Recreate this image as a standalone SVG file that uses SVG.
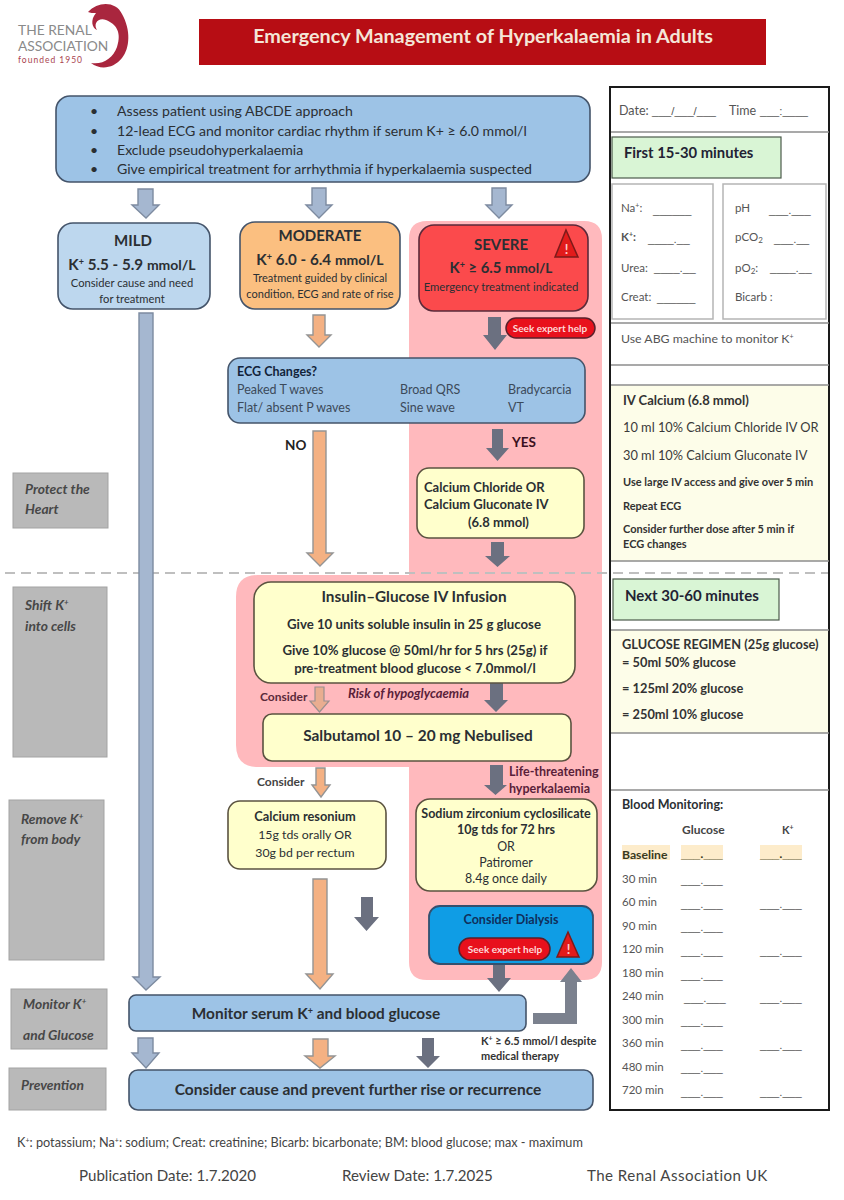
<svg xmlns="http://www.w3.org/2000/svg" width="844" height="1200" viewBox="0 0 844 1200">
<style>
text{font-family:Lato,"Liberation Sans",Arial,sans-serif;fill:#2b2f33}
.b{font-weight:700}.i{font-style:italic}.m{text-anchor:middle}
.blue{fill:#9dc3e6;stroke:#44546a;stroke-width:1.6}
.yel{fill:#ffffcc;stroke:#5b5340;stroke-width:1.6}
.lab{fill:#b9b9b9;stroke:#a3a3a3;stroke-width:1}
.lt{font-size:13.8px;font-style:italic;font-weight:700;fill:#474747}
.ab{fill:#a5b7d0;stroke:#7d8ba0;stroke-width:1.4}
.ao{fill:#f4b183;stroke:#949494;stroke-width:1.4}
.ac{fill:#e9ad90;stroke:#9a8f8f;stroke-width:1.2}
.ad{fill:#6b7080;stroke:none}
.pt{font-size:12.8px;fill:#3a3a3a}
.pb{font-size:11px;font-weight:700;fill:#333}
.t{font-size:11.5px;fill:#555}
.u{font-size:11.5px;fill:#555;font-family:"Liberation Sans",Arial,sans-serif}
.dash{stroke:#bfbfbf;stroke-width:2;stroke-dasharray:10 6;fill:none}
.div{stroke:#8d8d8d;stroke-width:1.4;fill:none}
.pill{fill:#e8101c;stroke:#5a1f2a;stroke-width:1.5}
.pw{font-size:10px;font-weight:700;fill:#ffd9d9;text-anchor:middle}
.tri{fill:#e21b1b;stroke:#7d1a1a;stroke-width:1.5}
.ex{font-size:13px;font-weight:700;fill:#ffc9c9;text-anchor:middle}
</style>

<rect width="844" height="1200" fill="#fff"/>

<g id="logo">
<path d="M88 12C98 1 116 1 122 14C131 30 130 48 122 58C113 69 100 70 91 63C103 65 113 58 117 47C122 32 116 24 106 20C98 17 93 24 97 30C92 28 90 20 96 13C93 13 90 13 88 12Z" fill="#a9263e"/>
<text x="18" y="35" font-size="13.800" style="fill:#8a8a8a">THE RENAL</text>
<text x="18" y="50.500" font-size="13.800" style="fill:#8a8a8a">ASSOCIATION</text>
<text x="18" y="63" font-size="8.500" style="fill:#a9434f" letter-spacing="1">founded 1950</text>
</g>

<g id="title">
<rect x="199" y="19" width="567" height="46" fill="#b70d14"/>
<text x="483" y="43" font-size="19.800" class="b m" style="fill:#f4e6d8">Emergency Management of Hyperkalaemia in Adults</text>
</g>

<path id="severe-zone" d="M427 221H584Q602 221 602 239V962Q602 980 584 980H427Q409 980 409 962V767H258Q236 767 236 745V597Q236 575 258 575H409V239Q409 221 427 221Z" fill="#ffb9bd"/>

<path class="dash" d="M5 573H829"/>

<g id="stage-labels">
<g id="label-protect"><rect class="lab" x="13" y="473" width="95" height="55"/><text class="lt" x="25" y="494">Protect the</text><text class="lt" x="25" y="514">Heart</text></g>
<g id="label-shift"><rect class="lab" x="13" y="587" width="94" height="170"/><text class="lt" x="25" y="610">Shift K<tspan baseline-shift="super" font-size="8">+</tspan></text><text class="lt" x="25" y="631">into cells</text></g>
<g id="label-remove"><rect class="lab" x="9" y="800" width="95" height="160"/><text class="lt" x="21" y="824">Remove K<tspan baseline-shift="super" font-size="8">+</tspan></text><text class="lt" x="21" y="844">from body</text></g>
<g id="label-monitor"><rect class="lab" x="11" y="989" width="96" height="60"/><text class="lt" x="23" y="1009">Monitor K<tspan baseline-shift="super" font-size="8">+</tspan></text><text class="lt" x="23" y="1040">and Glucose</text></g>
<g id="label-prevention"><rect class="lab" x="9" y="1068" width="97" height="42"/><text class="lt" x="21" y="1090">Prevention</text></g>
</g>

<g id="connectors">
<path class="ab" d="M138 189H153V205H159L146 218L132 205H138Z"/>
<path class="ab" d="M312 188H326V205H332L319 218L306 205H312Z"/>
<path class="ab" d="M492 188H506V205H512L499 218L486 205H492Z"/>
<path class="ab" d="M139 313H153V977H160L146 990L133 977H139Z"/>
<path class="ab" d="M138 1038H153V1053H159L146 1068L132 1053H138Z"/>
<path class="ao" d="M313 315H325V335H331L319 347L307 335H313Z"/>
<path class="ao" d="M313 431H326V553H333L320 566L307 553H313Z"/>
<path class="ac" d="M315 687H324V701H329L319.500 712L310 701H315Z"/>
<path class="ao" d="M316 768H325V785H330L321 797L312 785H316Z"/>
<path class="ao" d="M313 879H327V974H333L320 989L306 974H313Z"/>
<path class="ao" d="M313 1039H328V1056H335L320 1068L305 1056H313Z"/>
<path class="ad" d="M488 317H501V335H507L495 350L483 335H488Z"/>
<path class="ad" d="M492 429H503V448H509L497.500 461L486 448H492Z"/>
<path class="ad" d="M491 542H504V556H510L497.500 567L485 556H491Z"/>
<path class="ad" d="M490 683H503V700H508L496 712L484 700H490Z"/>
<path class="ad" d="M490 765H503V785H507L495.500 795L484 785H490Z"/>
<path class="ad" d="M361 897H373V917H379L366.500 931L354 917H361Z"/>
<path class="ad" d="M493 965H505V978H511L499 992L487 978H493Z"/>
<path class="ad" d="M422 1038H434V1056H440L428 1068L416 1056H422Z"/>
<path class="ad" style="fill:#7b818e" d="M533 1013H565V982H560L571 968L582 982H577V1024H533Z"/>
</g>

<g id="assess">
<rect class="blue" x="56" y="96" width="534" height="86" rx="14"/>
<g font-size="14.100">
<text x="90" y="116">•</text><text x="117" y="116">Assess patient using ABCDE approach</text>
<text x="90" y="136">•</text><text x="117" y="136">12-lead ECG and monitor cardiac rhythm if serum K+ ≥ 6.0 mmol/l</text>
<text x="90" y="155">•</text><text x="117" y="155">Exclude pseudohyperkalaemia</text>
<text x="90" y="174">•</text><text x="117" y="174">Give empirical treatment for arrhythmia if hyperkalaemia suspected</text>
</g>
</g>

<g id="mild">
<rect x="58" y="223" width="152" height="86" rx="15" fill="#bdd7ee" stroke="#44546a" stroke-width="1.600"/>
<text class="b m" x="133" y="246" font-size="15">MILD</text>
<text class="b m" x="132" y="270" font-size="15.200">K<tspan baseline-shift="super" font-size="9">+</tspan> 5.5 - 5.9 <tspan font-size="14">mmol/L</tspan></text>
<text class="m" x="132" y="287" font-size="11.200">Consider cause and need</text>
<text class="m" x="132" y="303" font-size="11.200">for treatment</text>
</g>

<g id="moderate">
<rect x="240" y="222" width="160" height="87" rx="15" fill="#fbbf80" stroke="#44546a" stroke-width="1.600"/>
<text class="b m" x="320" y="241" font-size="15">MODERATE</text>
<text class="b m" x="320" y="265" font-size="15.200">K<tspan baseline-shift="super" font-size="9">+</tspan> 6.0 - 6.4 <tspan font-size="14">mmol/L</tspan></text>
<text class="m" x="320" y="282" font-size="11">Treatment guided by clinical</text>
<text class="m" x="320" y="298" font-size="11">condition, ECG and rate of rise</text>
</g>

<g id="severe">
<rect x="419" y="225" width="169" height="86" rx="15" fill="#fb4a4c" stroke="#5a2a3a" stroke-width="1.600"/>
<text class="b m" x="501" y="250" font-size="15">SEVERE</text>
<text class="b m" x="501" y="273" font-size="14.800">K<tspan baseline-shift="super" font-size="9">+</tspan> ≥ 6.5 <tspan font-size="13.600">mmol/L</tspan></text>
<text class="m" x="501" y="291" font-size="11.300">Emergency treatment indicated</text>
<path class="tri" d="M566 230L578 257H555Z"/>
<text class="ex" x="566.500" y="254">!</text>
</g>

<g id="seek-help-1">
<rect class="pill" x="506" y="318" width="89" height="20" rx="10"/>
<text class="pw" x="550" y="332">Seek expert help</text>
</g>

<g id="ecg">
<rect class="blue" x="228" y="358" width="357" height="65" rx="12"/>
<text class="b" x="237" y="376" font-size="12.500" style="fill:#12233a">ECG Changes?</text>
<g font-size="12.500">
<text x="237" y="394" style="fill:#3c4a5a">Peaked T waves</text><text x="400" y="394" style="fill:#3c4a5a">Broad QRS</text><text x="508" y="394" style="fill:#3c4a5a">Bradycarcia</text>
<text x="237" y="412" style="fill:#3c4a5a">Flat/ absent P waves</text><text x="400" y="412" style="fill:#3c4a5a">Sine wave</text><text x="508" y="412" style="fill:#3c4a5a">VT</text>
</g>
</g>

<text id="no" class="b" x="285" y="450" font-size="13.500" style="fill:#222">NO</text>
<text id="yes" class="b" x="512" y="447" font-size="13.500" style="fill:#3a1020">YES</text>

<g id="calcium">
<rect class="yel" x="417" y="468" width="167" height="70" rx="12"/>
<g class="b" font-size="13">
<text x="424" y="492">Calcium Chloride OR</text>
<text x="424" y="509">Calcium Gluconate IV</text>
<text x="468" y="527">(6.8 mmol)</text>
</g>
</g>

<g id="insulin">
<rect class="yel" x="254" y="582" width="321" height="101" rx="17"/>
<text class="b m" x="414" y="602" font-size="15.300">Insulin–Glucose IV Infusion</text>
<text class="b m" x="414" y="629" font-size="13.200">Give 10 units soluble insulin in 25 g glucose</text>
<text class="b m" x="415" y="655" font-size="13.200">Give 10% glucose @ 50ml/hr for 5 hrs (25g) if</text>
<text class="b m" x="415" y="673" font-size="13.200">pre-treatment blood glucose &lt; 7.0mmol/l</text>
</g>

<text id="consider-1" class="b" x="260" y="701" font-size="12" style="fill:#5a2a3a">Consider</text>
<text id="risk" class="b i" x="348" y="698" font-size="13" style="fill:#5a1f3a">Risk of hypoglycaemia</text>

<g id="salbutamol">
<rect class="yel" x="263" y="714" width="308" height="47" rx="9"/>
<text class="b m" x="418" y="741" font-size="15.400">Salbutamol 10 – 20 mg Nebulised</text>
</g>

<text id="consider-2" class="b" x="257" y="786" font-size="12" style="fill:#444">Consider</text>
<g id="life-threatening" class="b" font-size="12.500">
<text x="509" y="776" style="fill:#5a1f3a">Life-threatening</text>
<text x="509" y="793" style="fill:#5a1f3a">hyperkalaemia</text>
</g>

<g id="resonium">
<rect class="yel" x="228" y="801" width="158" height="68" rx="12"/>
<text class="b m" x="305" y="821" font-size="12.800">Calcium resonium</text>
<text class="m" x="305" y="839" font-size="12.300">15g tds orally OR</text>
<text class="m" x="305" y="857" font-size="12.300">30g bd per rectum</text>
</g>

<g id="zirconium">
<rect class="yel" x="416" y="799" width="181" height="92" rx="14"/>
<text class="b m" x="506" y="818" font-size="12.500">Sodium zirconium cyclosilicate</text>
<text class="b m" x="506" y="834" font-size="12.500">10g tds for 72 hrs</text>
<text class="m" x="506" y="851" font-size="12.400">OR</text>
<text class="m" x="506" y="867" font-size="12.400">Patiromer</text>
<text class="m" x="506" y="883" font-size="12.400">8.4g once daily</text>
</g>

<g id="dialysis">
<rect x="429" y="906" width="164" height="58" rx="11" fill="#0f9de5" stroke="#34506e" stroke-width="1.800"/>
<text class="b m" x="511" y="924" font-size="12.500" style="fill:#0f2f5c">Consider Dialysis</text>
<rect class="pill" x="459" y="938" width="91" height="22" rx="11"/>
<text class="pw" x="505" y="953">Seek expert help</text>
<path class="tri" d="M568 932L579 957H557Z"/>
<text class="ex" x="568.500" y="954">!</text>
</g>

<g id="monitor">
<rect class="blue" x="129" y="995" width="397" height="36" rx="7"/>
<text class="b m" x="316" y="1019" font-size="15.400">Monitor serum K<tspan baseline-shift="super" font-size="9">+</tspan> and blood glucose</text>
</g>

<g id="despite" class="b" font-size="11">
<text x="481" y="1045" style="fill:#333">K<tspan baseline-shift="super" font-size="7">+</tspan> ≥ 6.5 mmol/l despite</text>
<text x="481" y="1060" style="fill:#333">medical therapy</text>
</g>

<g id="prevent">
<rect class="blue" x="129" y="1070" width="464" height="40" rx="9"/>
<text class="b m" x="358" y="1095" font-size="15.500">Consider cause and prevent further rise or recurrence</text>
</g>

<g id="side-panel">
<rect x="611" y="385" width="218" height="176" fill="#fdfde9"/>
<rect x="611" y="630" width="218" height="103" fill="#fdfde9"/>
<rect x="610" y="87" width="219" height="1023" fill="none" stroke="#1a1a1a" stroke-width="2"/>
<path class="div" d="M611 132H829M611 323H829M611 365H829M611 385H829M611 561H829M611 630H829M611 733H829M611 790H829"/>
<rect x="612" y="184" width="101" height="135" fill="none" stroke="#b5b5b5" stroke-width="1.500"/>
<rect x="723" y="184" width="103" height="135" fill="none" stroke="#b5b5b5" stroke-width="1.500"/>
<text class="t" x="619" y="115" style="font-size:12.500px">Date:</text>
<text class="u" x="652" y="115">___/___/___</text>
<text class="t" x="729" y="115" style="font-size:12.500px">Time</text>
<text class="u" x="760" y="115">___:____</text>
<g id="first-15"><rect x="612" y="137" width="169" height="41" fill="#d9f5d5" stroke="#4b5b4b" stroke-width="1.200"/><text class="b" x="624" y="158" font-size="14.800" style="fill:#223">First 15-30 minutes</text></g>
<text class="t" x="621" y="212">Na<tspan baseline-shift="super" font-size="7">+</tspan>:</text><text class="u" x="653" y="214">______</text>
<text class="t b" x="621" y="241">K<tspan baseline-shift="super" font-size="7">+</tspan>:</text><text class="u" x="648" y="243">____.__</text>
<text class="t" x="621" y="272">Urea:</text><text class="u" x="654" y="272">____.__</text>
<text class="t" x="621" y="301">Creat:</text><text class="u" x="657" y="302">______</text>
<text class="t" x="735" y="212">pH</text><text class="u" x="769" y="214">___.___</text>
<text class="t" x="735" y="241">pCO<tspan baseline-shift="-2" font-size="8">2</tspan></text><text class="u" x="774" y="243">___.__</text>
<text class="t" x="735" y="272">pO<tspan baseline-shift="-2" font-size="8">2</tspan>:</text><text class="u" x="770" y="272">____.__</text>
<text class="t" x="735" y="301">Bicarb :</text>
<text class="t" x="621" y="343" style="font-size:12.300px">Use ABG machine to monitor K<tspan baseline-shift="super" font-size="7">+</tspan></text>
<text class="b" x="623" y="405" font-size="13" style="fill:#333">IV Calcium (6.8 mmol)</text>
<text class="pt" x="623" y="432">10 ml 10% Calcium Chloride IV OR</text>
<text class="pt" x="623" y="460">30 ml 10% Calcium Gluconate IV</text>
<text class="pb" x="623" y="486">Use large IV access and give over 5 min</text>
<text class="pb" x="623" y="510">Repeat ECG</text>
<text class="pb" x="623" y="533">Consider further dose after 5 min if</text>
<text class="pb" x="623" y="548">ECG changes</text>
<g id="next-30"><rect x="613" y="579" width="166" height="41" fill="#d9f5d5" stroke="#4b5b4b" stroke-width="1.200"/><text class="b" x="625" y="601" font-size="15" style="fill:#223">Next 30-60 minutes</text></g>
<g class="b" font-size="12.800">
<text x="622" y="649" style="fill:#333">GLUCOSE REGIMEN (25g glucose)</text>
<text x="622" y="667" style="fill:#333">= 50ml 50% glucose</text>
<text x="622" y="693" style="fill:#333">= 125ml 20% glucose</text>
<text x="622" y="719" style="fill:#333">= 250ml 10% glucose</text>
</g>
<text class="b" x="622" y="809" font-size="12.500">Blood Monitoring:</text>
<text class="b" x="682" y="834" font-size="12" style="fill:#444">Glucose</text>
<text class="b" x="782" y="834" font-size="11" style="fill:#444">K<tspan baseline-shift="super" font-size="7">+</tspan></text>
<rect x="622" y="845" width="48" height="15" fill="#fdeccb"/>
<rect x="681" y="845" width="42" height="15" fill="#fdeccb"/>
<rect x="760" y="845" width="42" height="15" fill="#fdeccb"/>
<text class="b" x="622" y="859" font-size="12.200" style="fill:#3a3a20">Baseline</text>
<text class="u" x="681" y="858" style="fill:#3a3a20;font-weight:700">___.___</text>
<text class="u" x="760" y="858" style="fill:#3a3a20;font-weight:700">___.___</text>
<text class="t" x="622" y="883">30 min</text><text class="u" x="681" y="884">___.___</text>
<text class="t" x="622" y="906">60 min</text><text class="u" x="681" y="908">___.___</text><text class="u" x="760" y="908">___.___</text>
<text class="t" x="622" y="930">90 min</text><text class="u" x="681" y="931">___.___</text>
<text class="t" x="622" y="953">120 min</text><text class="u" x="681" y="955">___.___</text><text class="u" x="760" y="955">___.___</text>
<text class="t" x="622" y="977">180 min</text><text class="u" x="681" y="979">___.___</text>
<text class="t" x="622" y="1000">240 min</text><text class="u" x="684" y="1002">___.___</text><text class="u" x="760" y="1002">___.___</text>
<text class="t" x="622" y="1024">300 min</text><text class="u" x="681" y="1025">___.___</text>
<text class="t" x="622" y="1047">360 min</text><text class="u" x="681" y="1049">___.___</text><text class="u" x="760" y="1049">___.___</text>
<text class="t" x="622" y="1071">480 min</text><text class="u" x="681" y="1072">___.___</text>
<text class="t" x="622" y="1094">720 min</text><text class="u" x="681" y="1096">___.___</text><text class="u" x="760" y="1096">___.___</text>
</g>

<g id="footer">
<text x="17" y="1147" font-size="12.700" style="fill:#444">K<tspan baseline-shift="super" font-size="7">+</tspan>: potassium; Na<tspan baseline-shift="super" font-size="7">+</tspan>: sodium; Creat: creatinine; Bicarb: bicarbonate; BM: blood glucose; max - maximum</text>
<text x="79" y="1181" font-size="15.100" style="fill:#444">Publication Date: 1.7.2020</text>
<text x="342" y="1181" font-size="15.100" style="fill:#444">Review Date: 1.7.2025</text>
<text x="587" y="1181" font-size="15.100" letter-spacing="0.450" style="fill:#444">The Renal Association UK</text>
</g>
</svg>
